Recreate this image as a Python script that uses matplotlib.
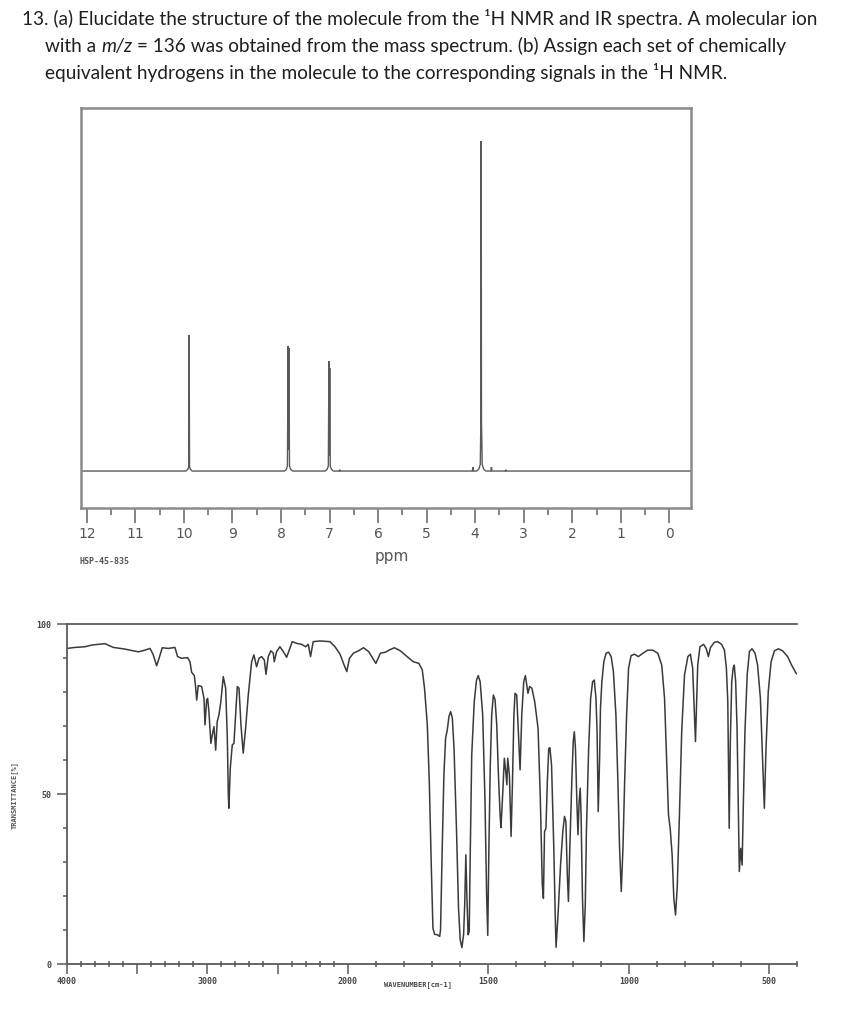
import matplotlib
matplotlib.use('Agg')
import matplotlib.pyplot as plt
import numpy as np
from matplotlib.ticker import FixedLocator, FixedFormatter, NullFormatter

# ---------------- data ----------------
# 1H NMR trace (ppm, relative intensity; tallest line = 100)
nmr_ppm = [12.12, 9.96, 9.92, 9.90, 9.892, 9.884, 9.865, 9.83,
           7.93, 7.89, 7.868, 7.852, 7.846, 7.838, 7.825, 7.80, 7.76,
           7.09, 7.05, 7.025, 7.012, 7.005, 6.996, 6.985, 6.96, 6.92,
           6.80, 6.79, 6.78, 4.06, 4.045, 4.035,
           3.97, 3.925, 3.895, 3.882, 3.876, 3.870, 3.855, 3.825, 3.78,
           3.68, 3.665, 3.655, 3.38, 3.37, 3.36, -0.44]
nmr_int = [0, 0, 0.5, 1.3, 41.2, 1.3, 0.5, 0,
           0, 0.5, 1.5, 37.9, 6.4, 37.3, 1.5, 0.5, 0,
           0, 0.5, 1.5, 33.3, 4.8, 31.2, 1.5, 0.5, 0,
           0, 0.4, 0, 0, 1.2, 0,
           0, 0.6, 2.0, 15.5, 100, 15.5, 2.0, 0.6, 0,
           0, 1.2, 0, 0, 0.4, 0, 0]
nmr_ticks = list(range(0, 13))
nmr_minor = [i + 0.5 for i in range(0, 12)]

# IR trace (wavenumber cm-1, transmittance %)
ir_wn = [4000, 3941, 3870, 3822, 3728, 3668, 3585, 3490, 3443, 3407, 3384, 3360,
         3343, 3320, 3277, 3230, 3211, 3182, 3140, 3123, 3111, 3092, 3083, 3075,
         3064, 3040, 3023, 3016, 3004, 2997, 2988, 2974, 2964, 2952, 2940, 2929,
         2917, 2903, 2886, 2869, 2857, 2850, 2846, 2836, 2822, 2810, 2798, 2786,
         2774, 2760, 2744, 2727, 2708, 2684, 2668, 2649, 2632, 2613, 2594, 2582,
         2566, 2547, 2530, 2523, 2506, 2483, 2459, 2435, 2412, 2395, 2364, 2329,
         2300, 2281, 2265, 2246, 2198, 2127, 2091, 2055, 2026, 2007, 1994, 1980,
         1962, 1944, 1926, 1911, 1900, 1884, 1866, 1851, 1834, 1813, 1789, 1767,
         1747, 1735, 1727, 1717, 1710, 1703, 1697, 1691, 1681, 1673, 1670, 1664,
         1658, 1652, 1646, 1640, 1634, 1628, 1622, 1613, 1606, 1600, 1594, 1588,
         1584, 1580, 1576, 1572, 1568, 1564, 1559, 1550, 1542, 1536, 1529, 1520,
         1512, 1506, 1502, 1498, 1493, 1488, 1482, 1476, 1470, 1464, 1458, 1455,
         1449, 1443, 1438, 1434, 1431, 1425, 1421, 1419, 1414, 1409, 1405, 1399,
         1393, 1387, 1381, 1374, 1368, 1359, 1353, 1345, 1335, 1323, 1315, 1308,
         1304, 1300, 1295, 1290, 1285, 1281, 1275, 1267, 1262, 1259, 1252, 1243,
         1235, 1229, 1224, 1219, 1215, 1210, 1203, 1198, 1194, 1190, 1185, 1181,
         1177, 1173, 1170, 1165, 1160, 1155, 1151, 1143, 1136, 1129, 1123, 1117,
         1113, 1109, 1104, 1101, 1096, 1089, 1081, 1072, 1063, 1055, 1046, 1039,
         1033, 1027, 1021, 1015, 1008, 1001, 992, 980, 966, 950, 933, 915,
         897, 883, 873, 865, 859, 853, 846, 840, 834, 828, 820, 812,
         802, 790, 781, 773, 767, 763, 760, 755, 747, 734, 725, 717,
         710, 696, 684, 670, 660, 653, 648, 643, 639, 634, 629, 625,
         620, 615, 610, 607, 602, 597, 593, 587, 579, 571, 562, 551,
         542, 532, 525, 518, 512, 504, 494, 482, 468, 453, 435, 421,
         405, 400]
ir_t = [92.9, 93.2, 93.4, 93.9, 94.3, 93.2, 92.7, 91.9, 92.4, 92.9, 91.0, 87.8,
        90.0, 93.1, 92.9, 93.2, 90.5, 90.0, 90.2, 89.0, 85.9, 84.9, 81.7, 77.7,
        82.0, 81.7, 78.2, 70.4, 77.8, 78.2, 74.3, 65.0, 67.5, 69.9, 63.0, 71.4,
        73.3, 77.3, 84.6, 81.2, 66.5, 49.8, 45.9, 57.7, 64.5, 65.0, 73.3, 81.7,
        81.2, 70.4, 62.1, 69.4, 79.2, 89.0, 91.0, 87.5, 90.0, 90.5, 89.5, 85.3,
        90.5, 92.2, 91.5, 89.0, 92.0, 93.4, 92.0, 90.3, 92.9, 94.9, 94.4, 94.1,
        93.4, 94.1, 90.5, 94.9, 95.1, 94.9, 93.4, 91.2, 88.0, 86.1, 90.0, 91.5,
        92.2, 93.1, 92.0, 90.0, 88.5, 91.5, 91.8, 92.5, 93.1, 92.2, 90.5, 89.0,
        88.5, 86.6, 81.2, 70.4, 53.7, 29.2, 10.6, 8.8, 8.7, 8.2, 10.1, 34.1,
        55.7, 66.5, 68.9, 72.9, 74.3, 72.4, 63.5, 39.0, 16.5, 7.2, 4.9, 8.7,
        17.5, 32.2, 19.4, 8.7, 9.6, 34.1, 61.6, 77.3, 83.6, 84.9, 83.1, 73.3,
        48.8, 20.4, 8.5, 34.1, 58.6, 73.3, 79.2, 77.8, 70.4, 55.7, 43.9, 40.2,
        49.8, 60.6, 56.7, 52.8, 60.6, 55.7, 42.9, 37.6, 53.7, 73.3, 79.7, 79.2,
        68.4, 57.2, 73.3, 83.1, 84.9, 79.7, 81.7, 81.2, 77.3, 69.4, 48.8, 23.4,
        19.4, 39.0, 40.0, 53.7, 63.5, 63.7, 58.6, 34.1, 14.5, 5.0, 14.5, 29.2,
        39.0, 43.5, 42.0, 26.3, 18.5, 34.1, 53.7, 65.5, 68.4, 63.5, 47.8, 38.1,
        47.8, 51.8, 44.0, 19.4, 6.7, 17.5, 39.0, 63.5, 78.2, 83.1, 83.6, 78.2,
        68.4, 44.9, 60.6, 75.3, 83.1, 89.0, 91.5, 91.8, 90.5, 86.1, 73.3, 53.7,
        34.1, 21.4, 34.1, 53.7, 73.3, 87.1, 90.8, 91.2, 90.5, 91.5, 92.4, 92.4,
        91.5, 88.0, 78.2, 58.6, 44.0, 40.0, 32.2, 19.4, 14.5, 22.4, 44.0, 68.4,
        85.1, 90.5, 91.2, 87.1, 74.3, 65.5, 74.3, 88.0, 93.4, 94.1, 92.9, 90.5,
        93.1, 94.7, 94.9, 94.1, 92.4, 87.1, 77.3, 40.0, 65.5, 83.1, 87.1, 88.0,
        83.1, 69.4, 44.0, 27.3, 34.1, 29.2, 45.9, 68.4, 85.1, 92.0, 92.8, 91.5,
        88.0, 78.2, 61.6, 45.9, 63.5, 80.2, 89.0, 92.2, 92.8, 92.2, 90.5, 88.0,
        85.6, 85.3]
ir_major = [4000, 3500, 3000, 2500, 2000, 1500, 1000, 500]
ir_major_labels = ['4000', '', '3000', '', '2000', '1500', '1000', '500']
ir_minor = [w for w in range(400, 4001, 100) if w not in ir_major]
ir_y_major = [0, 50, 100]
ir_y_labels = ['0', '50', '100']
ir_y_minor = [10, 20, 30, 40, 60, 70, 80, 90]

title_lines = [
    [("13. (a) Elucidate the structure of the molecule from the \u00b9H NMR and IR spectra. A molecular ion", 'normal')],
    [("with a", 'normal'), ("m/z", 'italic'),
     ("= 136 was obtained from the mass spectrum. (b) Assign each set of chemically", 'normal')],
    [("equivalent hydrogens in the molecule to the corresponding signals in the \u00b9H NMR.", 'normal')],
]

# ---------------- figure ----------------
W, H = 856, 1024
fig = plt.figure(figsize=(W / 100, H / 100), dpi=100)
fig.patch.set_facecolor('white')


def rect(l, t, r, b):
    return [l / W, 1 - b / H, (r - l) / W, (b - t) / H]


# ---- title text ----
renderer = fig.canvas.get_renderer()
TXT = '#1f1f1f'
FAM = ['Lato', 'DejaVu Sans']
probe = fig.text(0, 0, title_lines[0][0][0], fontsize=12, family=FAM)
wprobe = probe.get_window_extent(renderer).width
probe.remove()
fs = 12 * 796 / wprobe


def space_width(style):
    a = fig.text(0, 0, "x x", fontsize=fs, family=FAM, style=style)
    b = fig.text(0, 0, "xx", fontsize=fs, family=FAM, style=style)
    w = a.get_window_extent(renderer).width - b.get_window_extent(renderer).width
    a.remove(); b.remove()
    return w


sp = space_width('normal')
starts = [22, 45, 45]
baselines = [25, 52, 79]
for line, x0, yb in zip(title_lines, starts, baselines):
    x = x0
    for i, (s, st) in enumerate(line):
        if i > 0:
            x += sp
        t = fig.text(x / W, 1 - yb / H, s, fontsize=fs, family=FAM, style=st,
                     va='baseline', ha='left', color=TXT)
        x = t.get_window_extent(renderer).x1

# ---- NMR panel ----
ax1 = fig.add_axes(rect(81, 108, 690.7, 508))
ax1.plot(nmr_ppm, nmr_int, color='#5a5a5a', lw=1.0, solid_joinstyle='miter')
ax1.set_xlim(12.12, -0.44)
ax1.set_ylim(-11.2, 110)
for sp_ in ax1.spines.values():
    sp_.set_color('#8a8a8a')
    sp_.set_linewidth(1.8)
ax1.set_yticks([])
ax1.xaxis.set_major_locator(FixedLocator(nmr_ticks))
ax1.xaxis.set_major_formatter(FixedFormatter([str(v) for v in nmr_ticks]))
ax1.xaxis.set_minor_locator(FixedLocator(nmr_minor))
ax1.tick_params(axis='x', which='major', length=11, width=1.3, color='#7a7a7a',
                labelsize=10, labelcolor='#555555', pad=3, direction='out')
ax1.tick_params(axis='x', which='minor', length=5, width=1.3, color='#7a7a7a', direction='out')
for lab in ax1.get_xticklabels():
    lab.set_family('DejaVu Sans')

fig.text(80 / W, 1 - 561 / H, 'HSP-45-835', fontsize=6, family='DejaVu Sans Mono',
         weight='bold', color='#555555', va='center', ha='left')
fig.text(392 / W, 1 - 556 / H, 'ppm', fontsize=11, family='DejaVu Sans',
         color='#555555', va='center', ha='center')


# ---- IR panel ----
def fwd(w):
    w = np.asarray(w, dtype=float)
    return np.where(w >= 2000, w, 2 * w - 2000)


def inv(f):
    f = np.asarray(f, dtype=float)
    return np.where(f >= 2000, f, (f + 2000) / 2)


ax2 = fig.add_axes(rect(66.7, 624.3, 797.5, 964.3))
ax2.set_xscale('function', functions=(fwd, inv))
ax2.plot(ir_wn, ir_t, color='#3a3a3a', lw=1.1)
ax2.set_xlim(4000, 400)
ax2.set_ylim(0, 100)
ax2.spines['right'].set_visible(False)
for k in ('top', 'left', 'bottom'):
    ax2.spines[k].set_color('#5a5a5a')
    ax2.spines[k].set_linewidth(1.3)
ax2.xaxis.set_major_locator(FixedLocator(ir_major))
ax2.xaxis.set_major_formatter(FixedFormatter(ir_major_labels))
ax2.xaxis.set_minor_locator(FixedLocator(ir_minor))
ax2.xaxis.set_minor_formatter(NullFormatter())
ax2.yaxis.set_major_locator(FixedLocator(ir_y_major))
ax2.yaxis.set_major_formatter(FixedFormatter(ir_y_labels))
ax2.yaxis.set_minor_locator(FixedLocator(ir_y_minor))
ax2.tick_params(axis='x', which='major', length=7, width=1.1, color='#5a5a5a',
                labelsize=6, labelcolor='#444444', pad=2, direction='out')
ax2.tick_params(axis='x', which='minor', length=4, width=1.1, color='#5a5a5a', direction='inout')
ax2.tick_params(axis='y', which='major', length=7, width=1.1, color='#5a5a5a',
                labelsize=6, labelcolor='#444444', pad=4, direction='out')
ax2.tick_params(axis='y', which='minor', length=3, width=1.1, color='#5a5a5a', direction='out')
for lab in ax2.get_xticklabels() + ax2.get_yticklabels():
    lab.set_family('DejaVu Sans Mono')
    lab.set_weight('bold')

fig.text(384 / W, 1 - 985 / H, 'WAVENUMBER[cm-1]', fontsize=5, family='DejaVu Sans Mono',
         weight='bold', color='#444444', va='center', ha='left')
fig.text(14 / W, 1 - 795 / H, 'TRANSMITTANCE[%]', fontsize=5, family='DejaVu Sans Mono',
         weight='bold', color='#555555', va='center', ha='center', rotation=90)

fig.savefig('out.png', dpi=100, facecolor='white')
